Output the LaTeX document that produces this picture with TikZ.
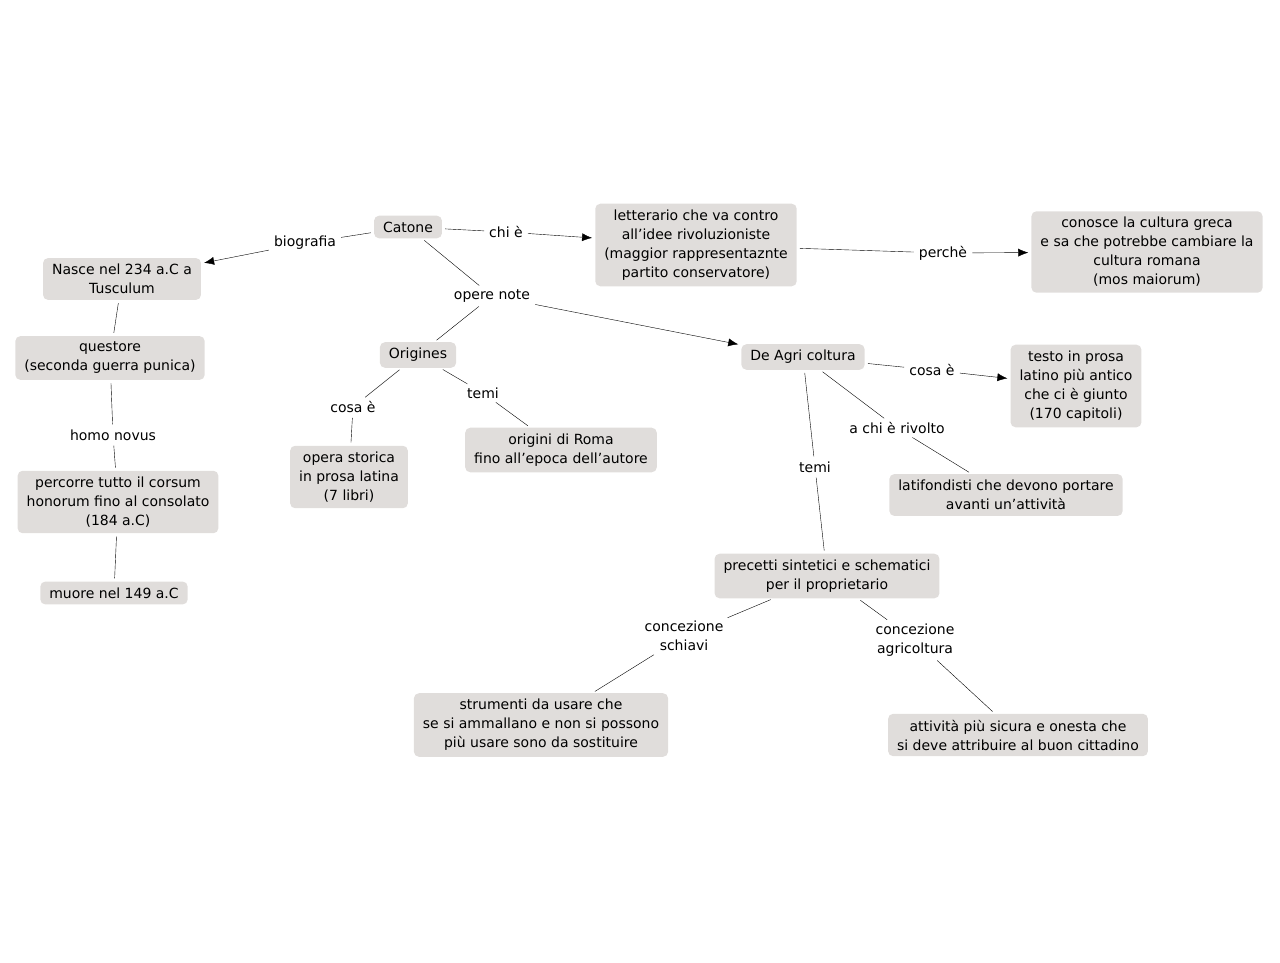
\documentclass[tikz,border=0pt]{standalone}
\usepackage{fontspec}
\setmainfont{DejaVu Sans}
\usetikzlibrary{arrows.meta,positioning}
\definecolor{conceptgray}{RGB}{224,221,219}
\tikzset{
  concept/.style={fill=conceptgray,rounded corners=5pt,align=center,inner xsep=9pt,inner ysep=6pt},
  linkword/.style={fill=white,align=center,inner sep=2pt},
  link/.style={thin,shorten <=3pt,shorten >=3pt},
  linkarrow/.style={link,-{Latex[length=10pt,width=8pt]}}
}
\begin{document}
\begin{tikzpicture}[x=1pt,y=-1pt,font=\fontsize{14}{19}\selectfont]
  \useasboundingbox (0,0) rectangle (1280,963);
  % concepts
  \node[concept] (catone) at (408,227) {Catone};
  \node[concept] (letterario) at (696,245) {letterario che va contro\\all'idee rivoluzioniste\\(maggior rappresentaznte\\partito conservatore)};
  \node[concept] (conosce) at (1147,252) {conosce la cultura greca\\e sa che potrebbe cambiare la\\cultura romana\\(mos maiorum)};
  \node[concept] (nasce) at (122,279) {Nasce nel 234 a.C a\\Tusculum};
  \node[concept] (questore) at (110,358) {questore\\(seconda guerra punica)};
  \node[concept] (percorre) at (118,502) {percorre tutto il corsum\\honorum fino al consolato\\(184 a.C)};
  \node[concept] (muore) at (114,593) {muore nel 149 a.C};
  \node[concept] (origines) at (418,355) {Origines};
  \node[concept] (deagri) at (803,357) {De Agri coltura};
  \node[concept] (testo) at (1076,386) {testo in prosa\\latino più antico\\che ci è giunto\\(170 capitoli)};
  \node[concept] (opera) at (349,477) {opera storica\\in prosa latina\\(7 libri)};
  \node[concept] (roma) at (561,450) {origini di Roma\\fino all'epoca dell'autore};
  \node[concept] (latifondisti) at (1006,495) {latifondisti che devono portare\\avanti un'attività};
  \node[concept] (precetti) at (827,576) {precetti sintetici e schematici\\per il proprietario};
  \node[concept] (strumenti) at (541,725) {strumenti da usare che\\se si ammallano e non si possono\\più usare sono da sostituire};
  \node[concept] (attivita) at (1018,735) {attività più sicura e onesta che\\si deve attribuire al buon cittadino};
  % linking words
  \node[linkword] (biografia) at (305,243) {biografia};
  \node[linkword] (chie) at (506,232) {chi è};
  \node[linkword] (perche) at (943,253) {perchè};
  \node[linkword] (homo) at (113,435) {homo novus};
  \node[linkword] (operenote) at (492,296) {opere note};
  \node[linkword] (cosae) at (353,407) {cosa è};
  \node[linkword] (temi) at (483,393) {temi};
  \node[linkword] (cosaeagri) at (932,370) {cosa è};
  \node[linkword] (rivolto) at (897,428) {a chi è rivolto};
  \node[linkword] (temiagri) at (815,467) {temi};
  \node[linkword] (schiavi) at (684,636) {concezione\\schiavi};
  \node[linkword] (agricoltura) at (915,640) {concezione\\agricoltura};
  % connectors
  \draw[link] (catone) -- (biografia);
  \draw[linkarrow] (biografia) -- (nasce);
  \draw[link] (catone) -- (chie);
  \draw[linkarrow] (chie) -- (letterario);
  \draw[link] (letterario) -- (perche);
  \draw[linkarrow] (perche) -- (conosce);
  \draw[link] (nasce) -- (questore);
  \draw[link] (questore) -- (homo);
  \draw[link] (homo) -- (percorre);
  \draw[link] (percorre) -- (muore);
  \draw[link] (catone) -- (operenote);
  \draw[link] (operenote) -- (origines);
  \draw[linkarrow] (operenote) -- (deagri);
  \draw[link] (origines) -- (cosae);
  \draw[link] (cosae) -- (opera);
  \draw[link] (origines) -- (temi);
  \draw[link] (temi) -- (roma);
  \draw[link] (deagri) -- (cosaeagri);
  \draw[linkarrow] (cosaeagri) -- (testo);
  \draw[link] (deagri) -- (rivolto);
  \draw[link] (rivolto) -- (latifondisti);
  \draw[link] (deagri) -- (temiagri);
  \draw[link] (temiagri) -- (precetti);
  \draw[link] (precetti) -- (schiavi);
  \draw[link] (schiavi) -- (strumenti);
  \draw[link] (precetti) -- (agricoltura);
  \draw[link] (agricoltura) -- (attivita);
\end{tikzpicture}
\end{document}
